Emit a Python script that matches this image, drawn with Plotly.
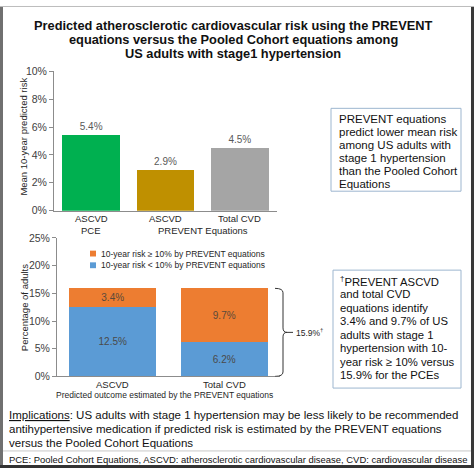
import plotly.graph_objects as go

W, H = 474, 474
FONT = "Liberation Sans, Arial, sans-serif"

# ---------------- data ----------------
top_x = [0, 1, 2]
top_cats = ["ASCVD", "ASCVD", "Total CVD"]
top_vals = [5.4, 2.9, 4.5]
top_colors = ["#00B050", "#BF9000", "#A5A5A5"]
top_yticks = [0, 2, 4, 6, 8, 10]

bot_x = [0, 1]
bot_cats = ["ASCVD", "Total CVD"]
bot_low = [12.5, 6.2]    # 10-year risk < 10% by PREVENT
bot_high = [3.4, 9.7]    # 10-year risk >= 10% by PREVENT
bot_yticks = [0, 5, 10, 15, 20, 25]
pce_total = 15.9

title_lines = [
    "Predicted atherosclerotic cardiovascular risk using the PREVENT",
    "equations versus the Pooled Cohort equations among",
    "US adults with stage1 hypertension",
]
box1_lines = ["PREVENT equations", "predict lower mean risk", "among US adults with",
              "stage 1 hypertension", "than the Pooled Cohort", "Equations"]
box2_lines = ["<sup>†</sup>PREVENT ASCVD", "and total CVD", "equations identify",
              "3.4% and 9.7% of US", "adults with stage 1", "hypertension with 10-",
              "year risk ≥ 10% versus", "15.9% for the PCEs"]
impl_lines = ["<u>Implications</u>: US adults with stage 1 hypertension may be less likely to be recommended",
              "antihypertensive medication if predicted risk is estimated by the PREVENT equations",
              "versus the Pooled Cohort Equations"]
foot = "PCE: Pooled Cohort Equations, ASCVD: atherosclerotic cardiovascular disease, CVD: cardiovascular disease"


def px(x):
    return x / W


def py(y):
    return 1 - y / H


fig = go.Figure()

fig.add_trace(go.Bar(
    x=top_x, y=top_vals, marker=dict(color=top_colors, line=dict(width=0)),
    width=0.78, text=[f"{v}%" for v in top_vals], textposition="outside",
    textfont=dict(size=10, color="#595959", family=FONT), cliponaxis=False,
    xaxis="x", yaxis="y", showlegend=False, hoverinfo="skip"))

fig.add_trace(go.Bar(
    x=bot_x, y=bot_low, marker=dict(color="#5B9BD5", line=dict(width=0)),
    width=0.78, text=[f"{v}%" for v in bot_low], textposition="inside",
    insidetextanchor="middle", constraintext="none",
    textfont=dict(size=10, color="#4a4a4a", family=FONT),
    xaxis="x2", yaxis="y2", showlegend=False, hoverinfo="skip"))
fig.add_trace(go.Bar(
    x=bot_x, y=bot_high, marker=dict(color="#ED7D31", line=dict(width=0)),
    width=0.78, text=[f"{v}%" for v in bot_high], textposition="inside",
    insidetextanchor="middle", constraintext="none",
    textfont=dict(size=10, color="#5a4a3a", family=FONT),
    xaxis="x2", yaxis="y2", showlegend=False, hoverinfo="skip"))

axcol = "#8c8c8c"
common_y = dict(showgrid=False, zeroline=False, showline=True, linecolor=axcol, linewidth=1,
                ticks="outside", ticklen=4, tickcolor=axcol,
                tickfont=dict(size=10.5, color="#404040", family=FONT))
common_x = dict(showgrid=False, zeroline=False, showline=True, linecolor=axcol, linewidth=1,
                ticks="", showticklabels=False)

fig.update_layout(
    width=W, height=H, margin=dict(l=0, r=0, t=0, b=0),
    paper_bgcolor="white", plot_bgcolor="rgba(0,0,0,0)",
    barmode="stack", bargap=0.2,
    font=dict(family=FONT, color="#1a1a1a"),
    xaxis=dict(domain=[px(54), px(277)], range=[-0.5, 2.5], anchor="y", **common_x),
    yaxis=dict(domain=[py(210), py(67)], range=[0, 10], anchor="x",
               tickvals=top_yticks, ticktext=[f"{v}%" for v in top_yticks], **common_y),
    xaxis2=dict(domain=[px(57), px(280)], range=[-0.5, 1.5], anchor="y2", **common_x),
    yaxis2=dict(domain=[py(380), py(238)], range=[0, 25], anchor="x2",
                tickvals=bot_yticks, ticktext=[f"{v}%" for v in bot_yticks], **common_y),
)

ann = []


def text(x, y, t, size, color="#1a1a1a", xanchor="center", xref="paper", yref="paper",
         textangle=0, bold=False):
    ann.append(dict(x=x, y=y, xref=xref, yref=yref, text=(f"<b>{t}</b>" if bold else t),
                    showarrow=False, xanchor=xanchor, yanchor="middle", textangle=textangle,
                    font=dict(size=size, color=color, family=FONT), borderpad=0))


# title
for i, t in enumerate(title_lines):
    text(px(233), py(20.5 + 14.2 * i), t, 12.8, color="#111111", bold=True)

# top chart category labels
for xi, c in zip(top_x, top_cats):
    text(xi, py(218), c, 9.5, color="#262626", xref="x")
text(0, py(230), "PCE", 9.5, color="#262626", xref="x")
text(1.5, py(230), "PREVENT Equations", 9.5, color="#262626", xref="x")
text(px(24), py(134), "Mean 10-year predicted risk", 9.5, color="#262626", textangle=-90)

# bottom chart category labels
for xi, c in zip(bot_x, bot_cats):
    text(xi, py(388), c, 9.5, color="#262626", xref="x2")
text(px(164), py(399), "Predicted outcome estimated by the PREVENT equations", 8.5, color="#262626")
text(px(24), py(310), "Percentage of adults", 9.5, color="#262626", textangle=-90)

# legend (manual)
text(px(100), py(254), "10-year risk ≥ 10% by PREVENT equations", 8.5, color="#262626", xanchor="left")
text(px(100), py(266), "10-year risk < 10% by PREVENT equations", 8.5, color="#262626", xanchor="left")

# bracket label
text(px(295), (pce_total / 2), "15.9%<sup>†</sup>", 8.5, color="#262626", xanchor="left", yref="y2")

# boxes text
for i, t in enumerate(box1_lines):
    text(px(338), py(116 + 13.3 * i), t, 11.5, color="#111111", xanchor="left")
for i, t in enumerate(box2_lines):
    text(px(339), py(282 + 13.8 * i), t, 11.3, color="#111111", xanchor="left")

# implications
for i, t in enumerate(impl_lines):
    text(px(8), py(420 + 14 * i), t, 11.5, color="#111111", xanchor="left")
text(px(8), py(465), foot, 9.45, color="#111111", xanchor="left")

fig.update_layout(annotations=ann)

shapes = []
# boxes
shapes.append(dict(type="rect", xref="paper", yref="paper", x0=px(331), x1=px(461),
                   y0=py(190), y1=py(105), line=dict(color="#9DB6CF", width=1)))
shapes.append(dict(type="rect", xref="paper", yref="paper", x0=px(333), x1=px(461),
                   y0=py(392), y1=py(271), line=dict(color="#9DB6CF", width=1)))
# legend swatches
shapes.append(dict(type="rect", xref="paper", yref="paper", x0=px(90), x1=px(96),
                   y0=py(257), y1=py(251), fillcolor="#ED7D31", line=dict(width=0)))
shapes.append(dict(type="rect", xref="paper", yref="paper", x0=px(90), x1=px(96),
                   y0=py(269), y1=py(263), fillcolor="#5B9BD5", line=dict(width=0)))
# curly brace (y in data units of bottom chart)
top, bot, mid = pce_total, 0.0, pce_total / 2
d = 0.8
xa, xb, xc = px(275), px(283), px(287)
brace = (f"M {xa},{top} Q {xb},{top} {xb},{top - d} L {xb},{mid + d} "
         f"Q {xb},{mid} {xc},{mid} Q {xb},{mid} {xb},{mid - d} L {xb},{bot + d} "
         f"Q {xb},{bot} {xa},{bot}")
shapes.append(dict(type="path", xref="paper", yref="y2", path=brace,
                   line=dict(color="#333333", width=1)))
shapes.append(dict(type="line", xref="paper", yref="y2", x0=xc, x1=px(293), y0=mid, y1=mid,
                   line=dict(color="#333333", width=1)))
# separator above footnote
shapes.append(dict(type="line", xref="paper", yref="paper", x0=0, x1=1, y0=py(456.5), y1=py(456.5),
                   line=dict(color="#c8c8c8", width=1)))
# frame
shapes.append(dict(type="rect", xref="paper", yref="paper", x0=0, x1=px(3), y0=0, y1=1,
                   fillcolor="#707070", line=dict(width=0)))
shapes.append(dict(type="rect", xref="paper", yref="paper", x0=px(471), x1=1, y0=0, y1=1,
                   fillcolor="#3a3a3a", line=dict(width=0)))
shapes.append(dict(type="rect", xref="paper", yref="paper", x0=0, x1=1, y0=0, y1=py(471),
                   fillcolor="#333333", line=dict(width=0)))
shapes.append(dict(type="line", xref="paper", yref="paper", x0=0, x1=1, y0=py(0.5), y1=py(0.5),
                   line=dict(color="#bdbdbd", width=1)))
fig.update_layout(shapes=shapes)

fig.write_html("out.html")
